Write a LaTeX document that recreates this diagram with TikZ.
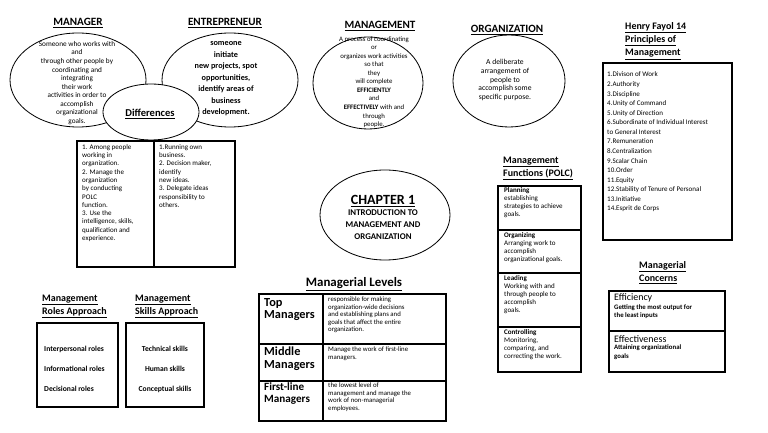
\documentclass[tikz,border=0pt]{standalone}
\usepackage{fontspec}
\setmainfont{Carlito}
\usetikzlibrary{shapes.geometric}

\newcommand{\fs}[2]{\fontsize{#1}{#2}\selectfont}

\tikzset{
  oval/.style={draw, ellipse, line width=0.7pt, inner sep=0pt},
  boxline/.style={line width=0.9pt},
  titletext/.style={font=\fs{9.5}{11.5}\bfseries, inner sep=0pt},
  headtext/.style={font=\fs{8.5}{11}\bfseries, inner sep=0pt, anchor=west, align=left},
  tinytext/.style={font=\fs{6.2}{7.3}, inner sep=0pt, align=center},
  listtext/.style={font=\fs{6}{7.1}, inner sep=0pt, anchor=west, align=left}
}

\begin{document}
\begin{tikzpicture}[x=0.03cm, y=-0.03cm]

        \useasboundingbox (0,0) rectangle (768,433);

        % manager / entrepreneur
        \node[oval, minimum width=4.08cm, minimum height=2.82cm] (mgr) at (78,80) {};
        \node[oval, minimum width=4.08cm, minimum height=2.82cm] (ent) at (230,80) {};
        \node[titletext] (mgrtitle) at (78,23) {\underline{MANAGER}};
        \node[titletext] (enttitle) at (225,23) {\underline{ENTREPRENEUR}};
        \node[tinytext] (mgrtext) at (77,83) {Someone who works with\\and\\through other people by\\coordinating and\\integrating\\their work\\activities in order to\\accomplish\\organizational\\goals.};
        \node[tinytext, font=\fs{7}{9.8}\bfseries] (enttext) at (226,79) {someone\\initiate\\new projects, spot\\opportunities,\\identify areas of\\business\\development.};
        \node[oval, fill=white, minimum width=2.88cm, minimum height=1.68cm] (diff) at (151,112) {};
        \node[titletext, font=\fs{9}{11}\bfseries] (difftitle) at (150,114) {\underline{Differences}};

        % differences table
        \draw[boxline] (77,141) rectangle (235,267);
        \draw[boxline] (154,141) -- (154,267);
        \node[listtext] (diffleft) at (82,193) {1. Among people\\working in\\organization.\\2. Manage the\\organization\\by conducting\\POLC\\function.\\3. Use the\\intelligence, skills,\\qualification and\\experience.};
        \node[listtext] (diffright) at (159,176) {1.Running own\\business.\\2. Decision maker,\\identify\\new ideas.\\3. Delegate ideas\\responsibility to\\others.};

        % management / organization
        \node[oval, minimum width=3.3cm, minimum height=2.76cm] (mgt) at (368,83) {};
        \node[titletext] (mgttitle) at (380,26) {\underline{MANAGEMENT}};
        \node[tinytext, font=\fs{5.8}{7.3}] (mgttext) at (374,82) {A process of coordinating\\or\\organizes work activities\\so that\\they\\will complete\\\textbf{EFFICIENTLY}\\and\\\textbf{EFFECTIVELY} with and\\through\\people.};
        \node[oval, minimum width=3.36cm, minimum height=2.76cm] (org) at (509,81) {};
        \node[titletext] (orgtitle) at (507,30) {\underline{ORGANIZATION}};
        \node[tinytext, font=\fs{6.5}{7.5}] (orgtext) at (505,80) {A deliberate\\arrangement of\\people to\\accomplish some\\specific purpose.};

        % fayol
        \node[headtext, font=\fs{8.5}{11.5}\bfseries] (fayoltitle) at (625,41) {\underline{Henry Fayol 14}\\\underline{Principles of}\\\underline{Management}};
        \draw[boxline] (603,63) rectangle (732,240);
        \node[listtext, font=\fs{6}{8.17}] (fayoltext) at (607,142) {1.Divison of Work\\2.Authority\\3.Discipline\\4.Unity of Command\\5.Unity of Direction\\6.Subordinate of Individual Interest\\to General Interest\\7.Remuneration\\8.Centralization\\9.Scalar Chain\\10.Order\\11.Equity\\12.Stability of Tenure of Personal\\13.Initiative\\14.Esprit de Corps};

        % chapter
        \node[oval, minimum width=3.9cm, minimum height=2.7cm] (chap) at (385,215) {};
        \node[titletext, font=\fs{12}{14}\bfseries] (chaptitle) at (383,201) {\underline{CHAPTER 1}};
        \node[tinytext, font=\fs{7.5}{10.2}\bfseries] (chaptext) at (383,225) {INTRODUCTION TO\\MANAGEMENT AND\\ORGANIZATION};

        % POLC
        \node[headtext] (polctitle) at (503,168.5) {\underline{Management}\\\underline{Functions (POLC)}};
        \draw[boxline] (498,186) rectangle (581,372);
        \draw[boxline] (498,230) -- (581,230);
        \draw[boxline] (498,273) -- (581,273);
        \draw[boxline] (498,327) -- (581,327);
        \node[listtext, font=\fs{6}{6.8}] (plan) at (504,203) {\textbf{Planning}\\establishing\\strategies to achieve\\goals.};
        \node[listtext, font=\fs{6}{6.8}] (orgz) at (504,247.5) {\textbf{Organizing}\\Arranging work to\\accomplish\\organizational goals.};
        \node[listtext, font=\fs{6}{6.8}] (lead) at (504,295) {\textbf{Leading}\\Working with and\\through people to\\accomplish\\goals.};
        \node[listtext, font=\fs{6}{6.8}] (ctrl) at (504,345) {\textbf{Controlling}\\Monitoring,\\comparing, and\\correcting the work.};

        % managerial levels
        \node[titletext, font=\fs{11}{13}\bfseries] (lvltitle) at (354,284) {\underline{Managerial Levels}};
        \draw[boxline] (259,294) rectangle (446,421);
        \draw[boxline] (323,294) -- (323,421);
        \draw[boxline] (259,344) -- (446,344);
        \draw[boxline] (259,381) -- (446,381);
        \node[headtext, font=\fs{10.5}{11}\bfseries] (top) at (264,309.5) {Top\\Managers};
        \node[headtext, font=\fs{10.5}{11}\bfseries] (middle) at (264,358.5) {Middle\\Managers};
        \node[headtext, font=\fs{9.5}{10.2}\bfseries] (first) at (264,394) {First-line\\Managers};
        \node[listtext, font=\fs{5.8}{6.4}] (toptext) at (328,315) {responsible for making\\organization-wide decisions\\and establishing plans and\\goals that affect the entire\\organization.};
        \node[listtext, font=\fs{5.8}{6.4}] (midtext) at (328,353.5) {Manage the work of first-line\\managers.};
        \node[listtext, font=\fs{5.8}{6.4}] (firsttext) at (328,397) {the lowest level of\\management and manage the\\work of non-managerial\\employees.};

        % roles and skills
        \node[headtext] (roletitle) at (42,306.5) {\underline{Management}\\\underline{Roles Approach}};
        \draw[boxline] (37,323) rectangle (118,407);
        \node[listtext, font=\fs{6.5}{8}\bfseries] (inter) at (44,349) {Interpersonal roles};
        \node[listtext, font=\fs{6.5}{8}\bfseries] (info) at (44,369) {Informational roles};
        \node[listtext, font=\fs{6.5}{8}\bfseries] (deci) at (44,389) {Decisional roles};
        \node[headtext] (skilltitle) at (135,306.5) {\underline{Management}\\\underline{Skills Approach}};
        \draw[boxline] (126,323) rectangle (204,407);
        \node[tinytext, font=\fs{6.5}{8}\bfseries] (tech) at (165,349) {Technical skills};
        \node[tinytext, font=\fs{6.5}{8}\bfseries] (human) at (165,369) {Human skills};
        \node[tinytext, font=\fs{6.5}{8}\bfseries] (concept) at (165,389) {Conceptual skills};

        % concerns
        \node[headtext] (concerntitle) at (639,272.5) {\underline{Managerial}\\\underline{Concerns}};
        \draw[boxline] (609,291) rectangle (725,372);
        \draw[boxline] (609,331) -- (725,331);
        \node[listtext, font=\fs{8.5}{9}] (effic) at (614,298) {Efficiency};
        \node[listtext, font=\fs{5.8}{7.3}\bfseries] (efftext) at (614,311.5) {Getting the most output for\\the least inputs};
        \node[listtext, font=\fs{8.5}{9}] (effect) at (614,339) {Effectiveness};
        \node[listtext, font=\fs{5.8}{7.3}\bfseries] (efcttext) at (614,352) {Attaining organizational\\goals};

      \end{tikzpicture}
\end{document}
